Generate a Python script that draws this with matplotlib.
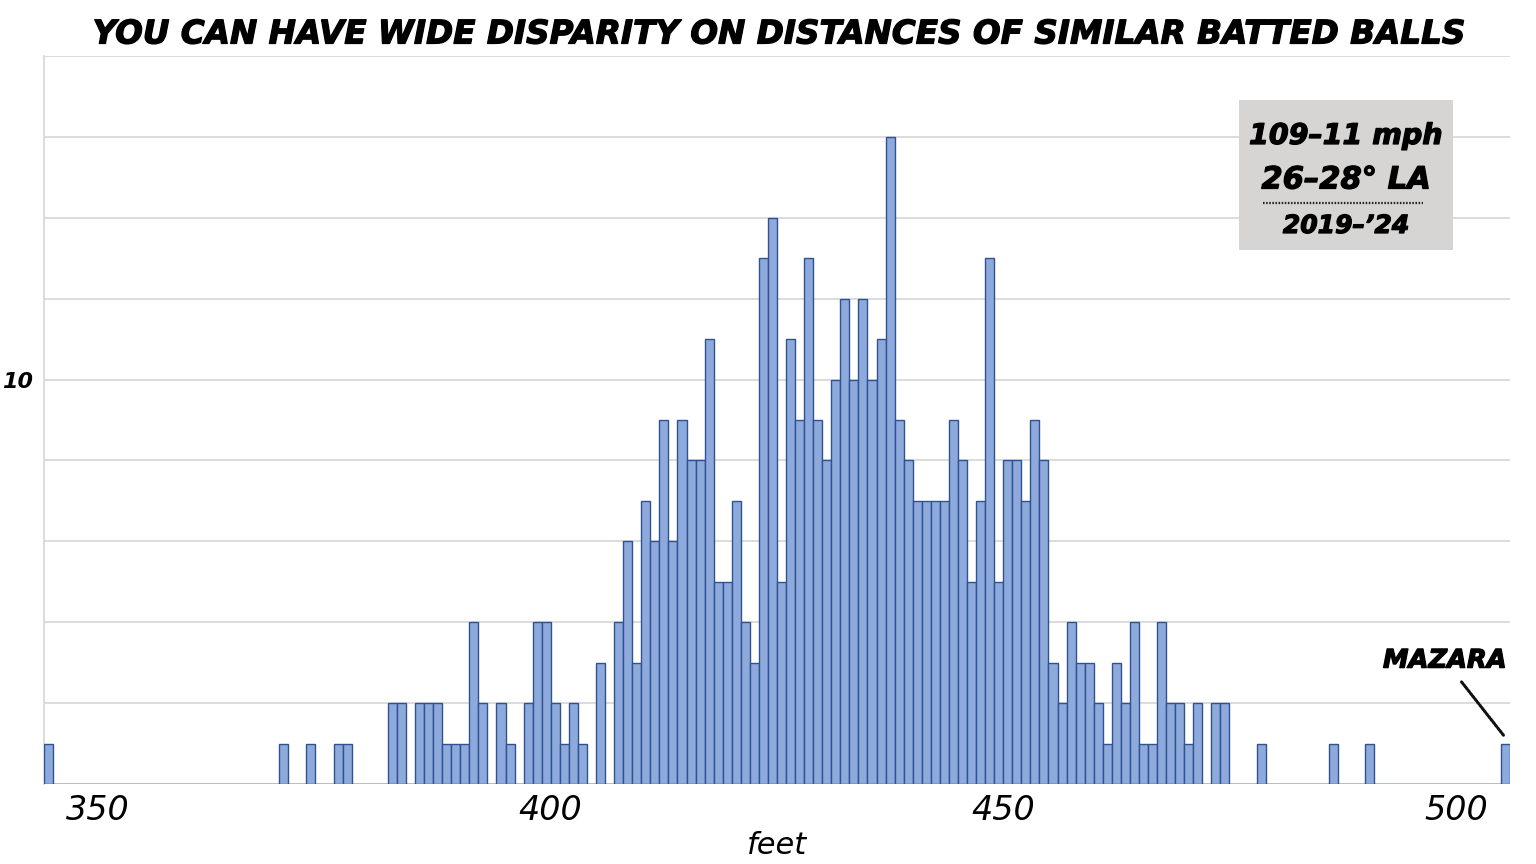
import numpy as np
import matplotlib
import matplotlib.pyplot as plt
import matplotlib.patheffects as pe
from matplotlib.patches import Rectangle
from matplotlib.lines import Line2D

matplotlib.use("Agg")

# Batted-ball distance histogram, 1-ft bins (left edge of bin)
bin_starts = list(range(344, 506))
counts = [
    1, 0, 0, 0, 0, 0, 0, 0, 0, 0,   # 344-353
    0, 0, 0, 0, 0, 0, 0, 0, 0, 0,   # 354-363
    0, 0, 0, 0, 0, 0, 1, 0, 0, 1,   # 364-373
    0, 0, 1, 1, 0, 0, 0, 0, 2, 2,   # 374-383
    0, 2, 2, 2, 1, 1, 1, 4, 2, 0,   # 384-393
    2, 1, 0, 2, 4, 4, 2, 1, 2, 1,   # 394-403
    0, 3, 0, 4, 6, 3, 7, 6, 9, 6,   # 404-413
    9, 8, 8, 11, 5, 5, 7, 4, 3, 13,  # 414-423
    14, 5, 11, 9, 13, 9, 8, 10, 12, 10,  # 424-433
    12, 10, 11, 16, 9, 8, 7, 7, 7, 7,  # 434-443
    9, 8, 5, 7, 13, 5, 8, 8, 7, 9,   # 444-453
    8, 3, 2, 4, 3, 3, 2, 1, 3, 2,   # 454-463
    4, 1, 1, 4, 2, 2, 1, 2, 0, 2,   # 464-473
    2, 0, 0, 0, 1, 0, 0, 0, 0, 0,   # 474-483
    0, 0, 1, 0, 0, 0, 1, 0, 0, 0,   # 484-493
    0, 0, 0, 0, 0, 0, 0, 0, 0, 0,   # 494-503
    0, 1,                           # 504-505
]
x_ticks = [350, 400, 450, 500]
y_grid = list(range(0, 19, 2))

title = "YOU CAN HAVE WIDE DISPARITY ON DISTANCES OF SIMILAR BATTED BALLS"
box_lines = ["109–11 mph", "26–28° LA", "2019–’24"]
callout_name = "MAZARA"
callout_bin = 505

FONT = ["DejaVu Sans"]
BAR_FILL = "#8eaadc"
BAR_EDGE = "#2f5290"
GRID = "#d9d9d9"
# thicken the bold text a little, the original uses a black weight
HEAVY = [pe.withStroke(linewidth=0.9, foreground="black")]

fig = plt.figure(figsize=(15.36, 8.64), dpi=100)
ax = fig.add_axes([44 / 1536, 80 / 864, 1466 / 1536, 728 / 864])

ax.bar(bin_starts, counts, width=1.0, align="edge",
       color=BAR_FILL, edgecolor=BAR_EDGE, linewidth=1.0, zorder=3)

ax.set_xlim(344, 506)
ax.set_ylim(0, 18)

ax.set_yticks(y_grid)
ax.set_yticklabels(["10" if v == 10 else "" for v in y_grid],
                   fontsize=16, fontweight="bold", fontstyle="italic", family=FONT)
ax.set_xticks(x_ticks)
ax.set_xticklabels([str(v) for v in x_ticks], fontsize=24,
                   fontstyle="italic", family=FONT)
ax.tick_params(axis="both", length=0)
ax.tick_params(axis="x", pad=7)
ax.tick_params(axis="y", pad=8)

ax.grid(axis="y", color=GRID, linewidth=1.3, zorder=0)
for side in ["right", "top", "bottom"]:
    ax.spines[side].set_visible(False)
ax.spines["left"].set_color(GRID)
ax.spines["left"].set_linewidth(1.3)
ax.axhline(0, color=GRID, linewidth=1.3, zorder=1)

ax.set_xlabel("feet", fontsize=22, fontstyle="italic", family=FONT, labelpad=3)

fig.text(0.507, 1 - 34 / 864, title, ha="center", va="center", fontsize=23.5,
         fontweight="bold", fontstyle="italic", family=FONT, path_effects=HEAVY)

# Info box (upper right)
fig.patches.append(Rectangle((1239 / 1536, 1 - 250 / 864), 214 / 1536, 150 / 864,
                             transform=fig.transFigure, facecolor="#d6d5d3",
                             edgecolor="none", zorder=5))
fig.text(1346 / 1536, 1 - 136 / 864, box_lines[0], ha="center", va="center",
         fontsize=20.5, fontweight="bold", fontstyle="italic", family=FONT,
         path_effects=HEAVY, zorder=6)
fig.text(1346 / 1536, 1 - 180 / 864, box_lines[1], ha="center", va="center",
         fontsize=22, fontweight="bold", fontstyle="italic", family=FONT,
         path_effects=HEAVY, zorder=6)
fig.lines.append(Line2D([1263 / 1536, 1423 / 1536], [1 - 203 / 864, 1 - 203 / 864],
                        transform=fig.transFigure, color="#222222", linewidth=1.6,
                        linestyle=(0, (0.7, 0.7)), zorder=6))
fig.text(1346 / 1536, 1 - 226 / 864, box_lines[2], ha="center", va="center",
         fontsize=18, fontweight="bold", fontstyle="italic", family=FONT,
         path_effects=HEAVY, zorder=6)

# Callout for the longest ball
ax.annotate(callout_name, xy=(callout_bin + 0.3, 1.2), xytext=(498.8, 3.05),
            ha="center", va="center", fontsize=18.5, fontweight="bold",
            fontstyle="italic", family=FONT, path_effects=HEAVY,
            arrowprops=dict(arrowstyle="-", color="#111111", linewidth=2.2,
                            linestyle=(0, (0.6, 0.6)), shrinkA=5, shrinkB=0))

fig.savefig("out.png", dpi=100, facecolor="white")
